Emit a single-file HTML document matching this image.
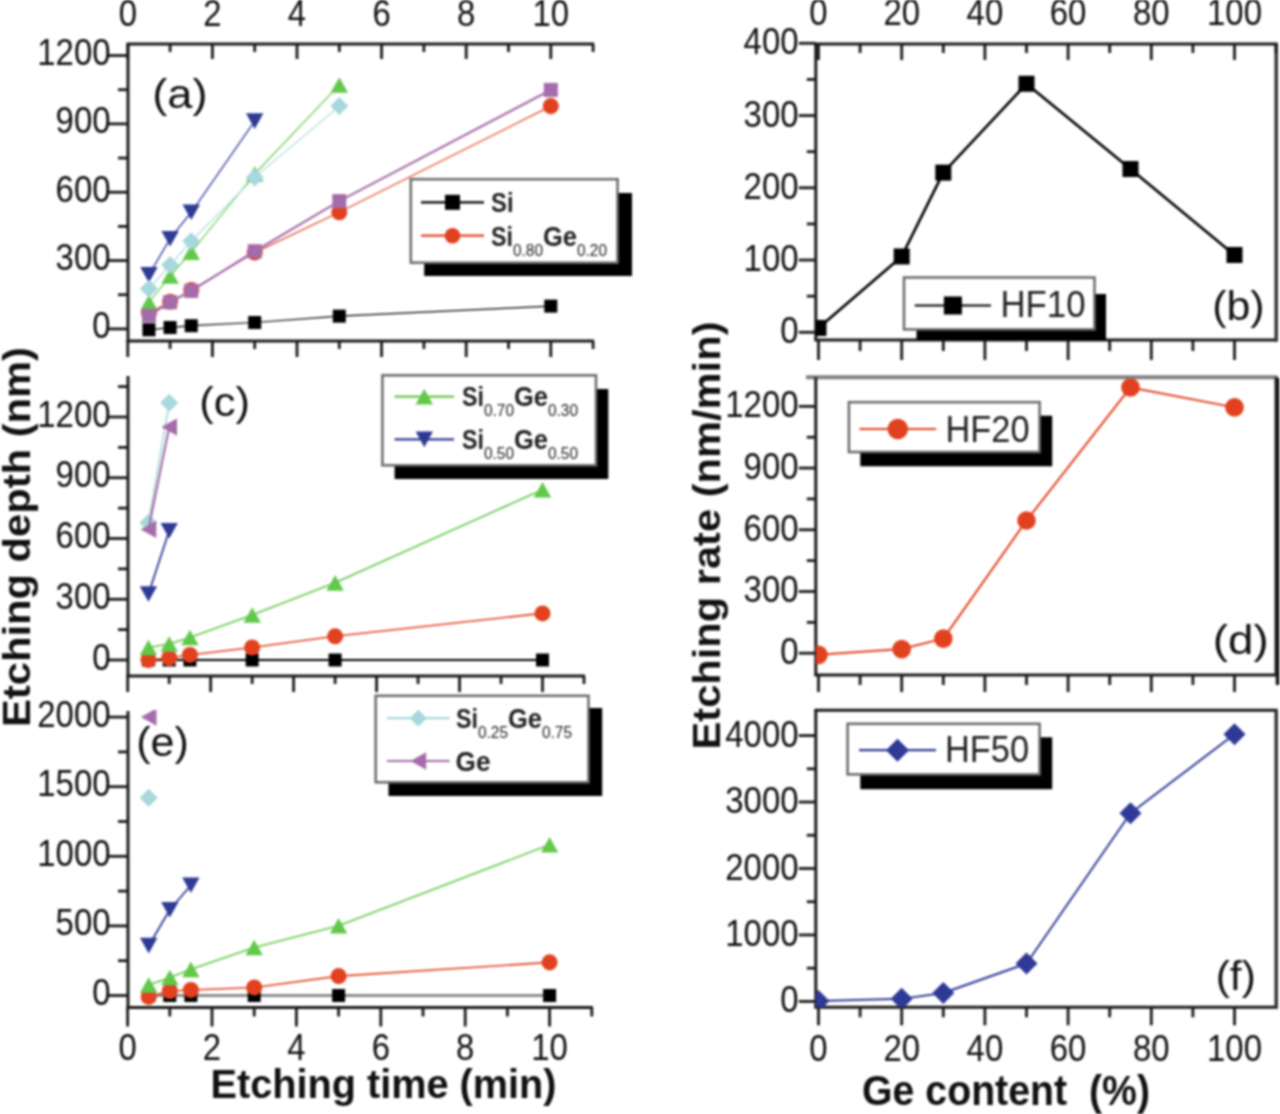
<!DOCTYPE html>
<html><head><meta charset="utf-8"><style>
html,body{margin:0;padding:0;background:#fff;width:1280px;height:1114px;overflow:hidden}
svg{display:block;filter:blur(1.2px)}
text{font-family:"Liberation Sans",sans-serif}
</style></head><body>
<svg width="1280" height="1114" viewBox="0 0 1280 1114">
<rect width="1280" height="1114" fill="#fff"/>
<defs>
<clipPath id="cA"><rect x="128" y="44" width="464.5" height="297"/></clipPath>
<clipPath id="cC"><rect x="128" y="376" width="456" height="300"/></clipPath>
<clipPath id="cE"><rect x="128" y="710" width="464" height="297.5"/></clipPath>
<clipPath id="cB"><rect x="815.8" y="44" width="460.4" height="296"/></clipPath>
<clipPath id="cD"><rect x="815.8" y="377" width="460.4" height="298"/></clipPath>
<clipPath id="cF"><rect x="815.8" y="710.2" width="460.4" height="297.1"/></clipPath>
</defs>
<line x1="128.00" y1="44.00" x2="128.00" y2="341.00" stroke="#1a1a1a" stroke-width="3" />
<line x1="126.50" y1="44.00" x2="594.10" y2="44.00" stroke="#1a1a1a" stroke-width="3" />
<line x1="126.50" y1="341.00" x2="594.10" y2="341.00" stroke="#1a1a1a" stroke-width="3" />
<line x1="127.80" y1="44.00" x2="127.80" y2="59.00" stroke="#1a1a1a" stroke-width="2.8" />
<text x="127.80" y="25.50" font-size="36" text-anchor="middle" font-weight="normal" fill="#111" textLength="18.3" lengthAdjust="spacingAndGlyphs"  xml:space="preserve">0</text>
<line x1="170.10" y1="44.00" x2="170.10" y2="52.00" stroke="#1a1a1a" stroke-width="2.8" />
<line x1="212.40" y1="44.00" x2="212.40" y2="59.00" stroke="#1a1a1a" stroke-width="2.8" />
<text x="212.40" y="25.50" font-size="36" text-anchor="middle" font-weight="normal" fill="#111" textLength="18.3" lengthAdjust="spacingAndGlyphs"  xml:space="preserve">2</text>
<line x1="254.70" y1="44.00" x2="254.70" y2="52.00" stroke="#1a1a1a" stroke-width="2.8" />
<line x1="297.00" y1="44.00" x2="297.00" y2="59.00" stroke="#1a1a1a" stroke-width="2.8" />
<text x="297.00" y="25.50" font-size="36" text-anchor="middle" font-weight="normal" fill="#111" textLength="18.3" lengthAdjust="spacingAndGlyphs"  xml:space="preserve">4</text>
<line x1="339.30" y1="44.00" x2="339.30" y2="52.00" stroke="#1a1a1a" stroke-width="2.8" />
<line x1="381.60" y1="44.00" x2="381.60" y2="59.00" stroke="#1a1a1a" stroke-width="2.8" />
<text x="381.60" y="25.50" font-size="36" text-anchor="middle" font-weight="normal" fill="#111" textLength="18.3" lengthAdjust="spacingAndGlyphs"  xml:space="preserve">6</text>
<line x1="423.90" y1="44.00" x2="423.90" y2="52.00" stroke="#1a1a1a" stroke-width="2.8" />
<line x1="466.20" y1="44.00" x2="466.20" y2="59.00" stroke="#1a1a1a" stroke-width="2.8" />
<text x="466.20" y="25.50" font-size="36" text-anchor="middle" font-weight="normal" fill="#111" textLength="18.3" lengthAdjust="spacingAndGlyphs"  xml:space="preserve">8</text>
<line x1="508.50" y1="44.00" x2="508.50" y2="52.00" stroke="#1a1a1a" stroke-width="2.8" />
<line x1="550.80" y1="44.00" x2="550.80" y2="59.00" stroke="#1a1a1a" stroke-width="2.8" />
<text x="550.80" y="25.50" font-size="36" text-anchor="middle" font-weight="normal" fill="#111" textLength="36.6" lengthAdjust="spacingAndGlyphs"  xml:space="preserve">10</text>
<line x1="593.10" y1="44.00" x2="593.10" y2="52.00" stroke="#1a1a1a" stroke-width="2.8" />
<line x1="127.80" y1="341.00" x2="127.80" y2="357.00" stroke="#1a1a1a" stroke-width="2.8" />
<line x1="170.10" y1="341.00" x2="170.10" y2="349.00" stroke="#1a1a1a" stroke-width="2.8" />
<line x1="212.40" y1="341.00" x2="212.40" y2="357.00" stroke="#1a1a1a" stroke-width="2.8" />
<line x1="254.70" y1="341.00" x2="254.70" y2="349.00" stroke="#1a1a1a" stroke-width="2.8" />
<line x1="297.00" y1="341.00" x2="297.00" y2="357.00" stroke="#1a1a1a" stroke-width="2.8" />
<line x1="339.30" y1="341.00" x2="339.30" y2="349.00" stroke="#1a1a1a" stroke-width="2.8" />
<line x1="381.60" y1="341.00" x2="381.60" y2="357.00" stroke="#1a1a1a" stroke-width="2.8" />
<line x1="423.90" y1="341.00" x2="423.90" y2="349.00" stroke="#1a1a1a" stroke-width="2.8" />
<line x1="466.20" y1="341.00" x2="466.20" y2="357.00" stroke="#1a1a1a" stroke-width="2.8" />
<line x1="508.50" y1="341.00" x2="508.50" y2="349.00" stroke="#1a1a1a" stroke-width="2.8" />
<line x1="550.80" y1="341.00" x2="550.80" y2="357.00" stroke="#1a1a1a" stroke-width="2.8" />
<line x1="593.10" y1="341.00" x2="593.10" y2="349.00" stroke="#1a1a1a" stroke-width="2.8" />
<line x1="109.00" y1="328.90" x2="128.00" y2="328.90" stroke="#1a1a1a" stroke-width="2.8" />
<text x="110.50" y="338.40" font-size="36" text-anchor="end" font-weight="normal" fill="#111" textLength="18.3" lengthAdjust="spacingAndGlyphs"  xml:space="preserve">0</text>
<line x1="109.00" y1="260.56" x2="128.00" y2="260.56" stroke="#1a1a1a" stroke-width="2.8" />
<text x="110.50" y="270.06" font-size="36" text-anchor="end" font-weight="normal" fill="#111" textLength="54.9" lengthAdjust="spacingAndGlyphs"  xml:space="preserve">300</text>
<line x1="109.00" y1="192.22" x2="128.00" y2="192.22" stroke="#1a1a1a" stroke-width="2.8" />
<text x="110.50" y="201.72" font-size="36" text-anchor="end" font-weight="normal" fill="#111" textLength="54.9" lengthAdjust="spacingAndGlyphs"  xml:space="preserve">600</text>
<line x1="109.00" y1="123.88" x2="128.00" y2="123.88" stroke="#1a1a1a" stroke-width="2.8" />
<text x="110.50" y="133.38" font-size="36" text-anchor="end" font-weight="normal" fill="#111" textLength="54.9" lengthAdjust="spacingAndGlyphs"  xml:space="preserve">900</text>
<line x1="109.00" y1="55.54" x2="128.00" y2="55.54" stroke="#1a1a1a" stroke-width="2.8" />
<text x="110.50" y="65.04" font-size="36" text-anchor="end" font-weight="normal" fill="#111" textLength="73.2" lengthAdjust="spacingAndGlyphs"  xml:space="preserve">1200</text>
<line x1="118.00" y1="294.73" x2="128.00" y2="294.73" stroke="#1a1a1a" stroke-width="2.8" />
<line x1="118.00" y1="226.39" x2="128.00" y2="226.39" stroke="#1a1a1a" stroke-width="2.8" />
<line x1="118.00" y1="158.05" x2="128.00" y2="158.05" stroke="#1a1a1a" stroke-width="2.8" />
<line x1="118.00" y1="89.71" x2="128.00" y2="89.71" stroke="#1a1a1a" stroke-width="2.8" />
<g clip-path="url(#cA)">
<polyline points="148.95,329.81 170.10,327.53 191.25,325.71 254.70,322.52 339.30,316.14 550.80,306.12" fill="none" stroke="#000" stroke-width="1.2" stroke-linejoin="round"/>
<rect x="142.45" y="323.31" width="13" height="13" fill="#000"/>
<rect x="163.60" y="321.03" width="13" height="13" fill="#000"/>
<rect x="184.75" y="319.21" width="13" height="13" fill="#000"/>
<rect x="248.20" y="316.02" width="13" height="13" fill="#000"/>
<rect x="332.80" y="309.64" width="13" height="13" fill="#000"/>
<rect x="544.30" y="299.62" width="13" height="13" fill="#000"/>
<polyline points="148.95,312.95 170.10,301.79 191.25,289.95 254.70,252.59 339.30,212.27 550.80,106.11" fill="none" stroke="#e2411f" stroke-width="1.2" stroke-linejoin="round"/>
<circle cx="148.95" cy="312.95" r="8.03" fill="#e2411f"/>
<circle cx="170.10" cy="301.79" r="8.03" fill="#e2411f"/>
<circle cx="191.25" cy="289.95" r="8.03" fill="#e2411f"/>
<circle cx="254.70" cy="252.59" r="8.03" fill="#e2411f"/>
<circle cx="339.30" cy="212.27" r="8.03" fill="#e2411f"/>
<circle cx="550.80" cy="106.11" r="8.03" fill="#e2411f"/>
<polyline points="148.95,302.48 170.10,276.05 191.25,252.13 254.70,174.00 339.30,84.93" fill="none" stroke="#62c84a" stroke-width="1.1" stroke-linejoin="round"/>
<polygon points="148.95,294.68 157.65,310.28 140.25,310.28" fill="#62c84a"/>
<polygon points="170.10,268.25 178.80,283.85 161.40,283.85" fill="#62c84a"/>
<polygon points="191.25,244.33 199.95,259.93 182.55,259.93" fill="#62c84a"/>
<polygon points="254.70,166.20 263.40,181.80 246.00,181.80" fill="#62c84a"/>
<polygon points="339.30,77.13 348.00,92.73 330.60,92.73" fill="#62c84a"/>
<polyline points="148.95,274.91 170.10,238.69 191.25,212.27 254.70,121.15" fill="none" stroke="#2e3a96" stroke-width="1.3" stroke-linejoin="round"/>
<polygon points="148.95,282.71 157.65,267.11 140.25,267.11" fill="#2e3a96"/>
<polygon points="170.10,246.49 178.80,230.89 161.40,230.89" fill="#2e3a96"/>
<polygon points="191.25,220.07 199.95,204.47 182.55,204.47" fill="#2e3a96"/>
<polygon points="254.70,128.95 263.40,113.35 246.00,113.35" fill="#2e3a96"/>
<polyline points="148.95,288.81 170.10,265.12 191.25,241.20 254.70,177.41 339.30,106.11" fill="none" stroke="#a6d8dc" stroke-width="1.1" stroke-linejoin="round"/>
<polygon points="148.95,279.81 157.95,288.81 148.95,297.81 139.95,288.81" fill="#a6d8dc"/>
<polygon points="170.10,256.12 179.10,265.12 170.10,274.12 161.10,265.12" fill="#a6d8dc"/>
<polygon points="191.25,232.20 200.25,241.20 191.25,250.20 182.25,241.20" fill="#a6d8dc"/>
<polygon points="254.70,168.41 263.70,177.41 254.70,186.41 245.70,177.41" fill="#a6d8dc"/>
<polygon points="339.30,97.11 348.30,106.11 339.30,115.11 330.30,106.11" fill="#a6d8dc"/>
<polyline points="148.95,315.69 170.10,302.25 191.25,290.86 254.70,251.22 339.30,201.10 550.80,89.94" fill="none" stroke="#a56cab" stroke-width="2.2" stroke-linejoin="round"/>
<rect x="141.95" y="308.69" width="14" height="14" fill="#a56cab"/>
<rect x="163.10" y="295.25" width="14" height="14" fill="#a56cab"/>
<rect x="184.25" y="283.86" width="14" height="14" fill="#a56cab"/>
<rect x="247.70" y="244.22" width="14" height="14" fill="#a56cab"/>
<rect x="332.30" y="194.10" width="14" height="14" fill="#a56cab"/>
<rect x="543.80" y="82.94" width="14" height="14" fill="#a56cab"/>
</g>
<text x="152.20" y="107.50" font-size="40" text-anchor="start" font-weight="normal" fill="#111" textLength="55.3" lengthAdjust="spacingAndGlyphs"  xml:space="preserve">(a)</text>
<rect x="424.20" y="193.00" width="207.80" height="83.00" fill="#000"/>
<rect x="410.80" y="179.20" width="206.70" height="83.50" fill="#fff" stroke="#6a6a6a" stroke-width="2.5"/>
<line x1="421.00" y1="202.30" x2="484.00" y2="202.30" stroke="#000" stroke-width="2.2" />
<rect x="445.00" y="194.80" width="15" height="15" fill="#000"/>
<text x="491.00" y="211.50" font-size="27" text-anchor="start" font-weight="bold" fill="#222" textLength="22.5" lengthAdjust="spacingAndGlyphs"  xml:space="preserve">Si</text>
<line x1="421.00" y1="235.70" x2="484.00" y2="235.70" stroke="#e2411f" stroke-width="2.2" />
<circle cx="452.50" cy="235.70" r="7.80" fill="#e2411f"/>
<text x="491.00" y="245.50" font-size="27" font-weight="bold" fill="#222" xml:space="preserve"><tspan textLength="22" lengthAdjust="spacingAndGlyphs">Si</tspan><tspan font-size="16" font-weight="normal" dy="10" textLength="30" lengthAdjust="spacingAndGlyphs">0.80</tspan><tspan dy="-10" textLength="34" lengthAdjust="spacingAndGlyphs">Ge</tspan><tspan font-size="16" font-weight="normal" dy="10" textLength="30" lengthAdjust="spacingAndGlyphs">0.20</tspan></text>
<line x1="128.00" y1="376.00" x2="128.00" y2="676.00" stroke="#1a1a1a" stroke-width="3" />
<line x1="126.50" y1="676.00" x2="584.98" y2="676.00" stroke="#1a1a1a" stroke-width="3" />
<line x1="127.70" y1="676.00" x2="127.70" y2="692.00" stroke="#1a1a1a" stroke-width="2.8" />
<line x1="169.18" y1="676.00" x2="169.18" y2="684.00" stroke="#1a1a1a" stroke-width="2.8" />
<line x1="210.66" y1="676.00" x2="210.66" y2="692.00" stroke="#1a1a1a" stroke-width="2.8" />
<line x1="252.14" y1="676.00" x2="252.14" y2="684.00" stroke="#1a1a1a" stroke-width="2.8" />
<line x1="293.62" y1="676.00" x2="293.62" y2="692.00" stroke="#1a1a1a" stroke-width="2.8" />
<line x1="335.10" y1="676.00" x2="335.10" y2="684.00" stroke="#1a1a1a" stroke-width="2.8" />
<line x1="376.58" y1="676.00" x2="376.58" y2="692.00" stroke="#1a1a1a" stroke-width="2.8" />
<line x1="418.06" y1="676.00" x2="418.06" y2="684.00" stroke="#1a1a1a" stroke-width="2.8" />
<line x1="459.54" y1="676.00" x2="459.54" y2="692.00" stroke="#1a1a1a" stroke-width="2.8" />
<line x1="501.02" y1="676.00" x2="501.02" y2="684.00" stroke="#1a1a1a" stroke-width="2.8" />
<line x1="542.50" y1="676.00" x2="542.50" y2="692.00" stroke="#1a1a1a" stroke-width="2.8" />
<line x1="583.98" y1="676.00" x2="583.98" y2="684.00" stroke="#1a1a1a" stroke-width="2.8" />
<line x1="109.00" y1="660.00" x2="128.00" y2="660.00" stroke="#1a1a1a" stroke-width="2.8" />
<text x="110.50" y="669.50" font-size="36" text-anchor="end" font-weight="normal" fill="#111" textLength="18.3" lengthAdjust="spacingAndGlyphs"  xml:space="preserve">0</text>
<line x1="109.00" y1="599.25" x2="128.00" y2="599.25" stroke="#1a1a1a" stroke-width="2.8" />
<text x="110.50" y="608.75" font-size="36" text-anchor="end" font-weight="normal" fill="#111" textLength="54.9" lengthAdjust="spacingAndGlyphs"  xml:space="preserve">300</text>
<line x1="109.00" y1="538.50" x2="128.00" y2="538.50" stroke="#1a1a1a" stroke-width="2.8" />
<text x="110.50" y="548.00" font-size="36" text-anchor="end" font-weight="normal" fill="#111" textLength="54.9" lengthAdjust="spacingAndGlyphs"  xml:space="preserve">600</text>
<line x1="109.00" y1="477.75" x2="128.00" y2="477.75" stroke="#1a1a1a" stroke-width="2.8" />
<text x="110.50" y="487.25" font-size="36" text-anchor="end" font-weight="normal" fill="#111" textLength="54.9" lengthAdjust="spacingAndGlyphs"  xml:space="preserve">900</text>
<line x1="109.00" y1="417.00" x2="128.00" y2="417.00" stroke="#1a1a1a" stroke-width="2.8" />
<text x="110.50" y="426.50" font-size="36" text-anchor="end" font-weight="normal" fill="#111" textLength="73.2" lengthAdjust="spacingAndGlyphs"  xml:space="preserve">1200</text>
<line x1="118.00" y1="629.62" x2="128.00" y2="629.62" stroke="#1a1a1a" stroke-width="2.8" />
<line x1="118.00" y1="568.88" x2="128.00" y2="568.88" stroke="#1a1a1a" stroke-width="2.8" />
<line x1="118.00" y1="508.12" x2="128.00" y2="508.12" stroke="#1a1a1a" stroke-width="2.8" />
<line x1="118.00" y1="447.38" x2="128.00" y2="447.38" stroke="#1a1a1a" stroke-width="2.8" />
<line x1="118.00" y1="386.62" x2="128.00" y2="386.62" stroke="#1a1a1a" stroke-width="2.8" />
<g clip-path="url(#cC)">
<polyline points="148.44,660.00 169.18,660.00 189.92,660.00 252.14,660.00 335.10,660.00 542.50,660.00" fill="none" stroke="#000" stroke-width="2.2" stroke-linejoin="round"/>
<rect x="141.94" y="653.50" width="13" height="13" fill="#000"/>
<rect x="162.68" y="653.50" width="13" height="13" fill="#000"/>
<rect x="183.42" y="653.50" width="13" height="13" fill="#000"/>
<rect x="245.64" y="653.50" width="13" height="13" fill="#000"/>
<rect x="328.60" y="653.50" width="13" height="13" fill="#000"/>
<rect x="536.00" y="653.50" width="13" height="13" fill="#000"/>
<polyline points="148.44,660.00 169.18,657.98 189.92,654.94 252.14,647.45 335.10,636.31 542.50,613.42" fill="none" stroke="#e2411f" stroke-width="1.6" stroke-linejoin="round"/>
<circle cx="148.44" cy="660.00" r="8.03" fill="#e2411f"/>
<circle cx="169.18" cy="657.98" r="8.03" fill="#e2411f"/>
<circle cx="189.92" cy="654.94" r="8.03" fill="#e2411f"/>
<circle cx="252.14" cy="647.45" r="8.03" fill="#e2411f"/>
<circle cx="335.10" cy="636.31" r="8.03" fill="#e2411f"/>
<circle cx="542.50" cy="613.42" r="8.03" fill="#e2411f"/>
<polyline points="148.44,647.45 169.18,644.00 189.92,637.52 252.14,615.04 335.10,582.85 542.50,489.70" fill="none" stroke="#62c84a" stroke-width="1.6" stroke-linejoin="round"/>
<polygon points="148.44,639.65 157.14,655.25 139.74,655.25" fill="#62c84a"/>
<polygon points="169.18,636.20 177.88,651.80 160.48,651.80" fill="#62c84a"/>
<polygon points="189.92,629.72 198.62,645.32 181.22,645.32" fill="#62c84a"/>
<polygon points="252.14,607.25 260.84,622.84 243.44,622.84" fill="#62c84a"/>
<polygon points="335.10,575.05 343.80,590.65 326.40,590.65" fill="#62c84a"/>
<polygon points="542.50,481.90 551.20,497.50 533.80,497.50" fill="#62c84a"/>
<polyline points="148.44,593.99 169.18,530.80" fill="none" stroke="#2e3a96" stroke-width="1.8" stroke-linejoin="round"/>
<polygon points="148.44,601.78 157.14,586.19 139.74,586.19" fill="#2e3a96"/>
<polygon points="169.18,538.60 177.88,523.00 160.48,523.00" fill="#2e3a96"/>
<polyline points="148.44,522.70 169.18,402.82" fill="none" stroke="#a6d8dc" stroke-width="1.6" stroke-linejoin="round"/>
<polygon points="148.44,513.70 157.44,522.70 148.44,531.70 139.44,522.70" fill="#a6d8dc"/>
<polygon points="169.18,393.82 178.18,402.82 169.18,411.82 160.18,402.82" fill="#a6d8dc"/>
<polyline points="148.44,529.39 169.18,427.12" fill="none" stroke="#a56cab" stroke-width="2.2" stroke-linejoin="round"/>
<polygon points="140.64,529.39 156.24,520.69 156.24,538.09" fill="#a56cab"/>
<polygon points="161.38,427.12 176.98,418.43 176.98,435.82" fill="#a56cab"/>
</g>
<text x="199.20" y="415.50" font-size="41" text-anchor="start" font-weight="normal" fill="#111" textLength="50.8" lengthAdjust="spacingAndGlyphs"  xml:space="preserve">(c)</text>
<rect x="394.60" y="389.00" width="213.70" height="90.00" fill="#000"/>
<rect x="382.40" y="375.30" width="213.60" height="90.00" fill="#fff" stroke="#6a6a6a" stroke-width="2.5"/>
<line x1="394.60" y1="396.60" x2="454.00" y2="396.60" stroke="#62c84a" stroke-width="2.2" />
<polygon points="424.30,388.80 433.00,404.40 415.60,404.40" fill="#62c84a"/>
<text x="462.00" y="406.00" font-size="27" font-weight="bold" fill="#222" xml:space="preserve"><tspan textLength="22" lengthAdjust="spacingAndGlyphs">Si</tspan><tspan font-size="16" font-weight="normal" dy="10" textLength="30" lengthAdjust="spacingAndGlyphs">0.70</tspan><tspan dy="-10" textLength="34" lengthAdjust="spacingAndGlyphs">Ge</tspan><tspan font-size="16" font-weight="normal" dy="10" textLength="30" lengthAdjust="spacingAndGlyphs">0.30</tspan></text>
<line x1="394.60" y1="439.40" x2="454.00" y2="439.40" stroke="#2e3a96" stroke-width="2.2" />
<polygon points="424.30,447.20 433.00,431.60 415.60,431.60" fill="#2e3a96"/>
<text x="462.00" y="449.00" font-size="27" font-weight="bold" fill="#222" xml:space="preserve"><tspan textLength="22" lengthAdjust="spacingAndGlyphs">Si</tspan><tspan font-size="16" font-weight="normal" dy="10" textLength="30" lengthAdjust="spacingAndGlyphs">0.50</tspan><tspan dy="-10" textLength="34" lengthAdjust="spacingAndGlyphs">Ge</tspan><tspan font-size="16" font-weight="normal" dy="10" textLength="30" lengthAdjust="spacingAndGlyphs">0.50</tspan></text>
<line x1="128.00" y1="711.00" x2="128.00" y2="1007.50" stroke="#1a1a1a" stroke-width="3" />
<line x1="126.50" y1="1007.50" x2="592.80" y2="1007.50" stroke="#1a1a1a" stroke-width="3" />
<line x1="127.60" y1="1007.50" x2="127.60" y2="1026.50" stroke="#1a1a1a" stroke-width="2.8" />
<line x1="169.80" y1="1007.50" x2="169.80" y2="1016.50" stroke="#1a1a1a" stroke-width="2.8" />
<line x1="212.00" y1="1007.50" x2="212.00" y2="1026.50" stroke="#1a1a1a" stroke-width="2.8" />
<line x1="254.20" y1="1007.50" x2="254.20" y2="1016.50" stroke="#1a1a1a" stroke-width="2.8" />
<line x1="296.40" y1="1007.50" x2="296.40" y2="1026.50" stroke="#1a1a1a" stroke-width="2.8" />
<line x1="338.60" y1="1007.50" x2="338.60" y2="1016.50" stroke="#1a1a1a" stroke-width="2.8" />
<line x1="380.80" y1="1007.50" x2="380.80" y2="1026.50" stroke="#1a1a1a" stroke-width="2.8" />
<line x1="423.00" y1="1007.50" x2="423.00" y2="1016.50" stroke="#1a1a1a" stroke-width="2.8" />
<line x1="465.20" y1="1007.50" x2="465.20" y2="1026.50" stroke="#1a1a1a" stroke-width="2.8" />
<line x1="507.40" y1="1007.50" x2="507.40" y2="1016.50" stroke="#1a1a1a" stroke-width="2.8" />
<line x1="549.60" y1="1007.50" x2="549.60" y2="1026.50" stroke="#1a1a1a" stroke-width="2.8" />
<line x1="591.80" y1="1007.50" x2="591.80" y2="1016.50" stroke="#1a1a1a" stroke-width="2.8" />
<text x="127.60" y="1060.00" font-size="36" text-anchor="middle" font-weight="normal" fill="#111" textLength="18.3" lengthAdjust="spacingAndGlyphs"  xml:space="preserve">0</text>
<text x="212.00" y="1060.00" font-size="36" text-anchor="middle" font-weight="normal" fill="#111" textLength="18.3" lengthAdjust="spacingAndGlyphs"  xml:space="preserve">2</text>
<text x="296.40" y="1060.00" font-size="36" text-anchor="middle" font-weight="normal" fill="#111" textLength="18.3" lengthAdjust="spacingAndGlyphs"  xml:space="preserve">4</text>
<text x="380.80" y="1060.00" font-size="36" text-anchor="middle" font-weight="normal" fill="#111" textLength="18.3" lengthAdjust="spacingAndGlyphs"  xml:space="preserve">6</text>
<text x="465.20" y="1060.00" font-size="36" text-anchor="middle" font-weight="normal" fill="#111" textLength="18.3" lengthAdjust="spacingAndGlyphs"  xml:space="preserve">8</text>
<text x="549.60" y="1060.00" font-size="36" text-anchor="middle" font-weight="normal" fill="#111" textLength="36.6" lengthAdjust="spacingAndGlyphs"  xml:space="preserve">10</text>
<line x1="109.00" y1="995.50" x2="128.00" y2="995.50" stroke="#1a1a1a" stroke-width="2.8" />
<text x="110.50" y="1005.00" font-size="36" text-anchor="end" font-weight="normal" fill="#111" textLength="18.3" lengthAdjust="spacingAndGlyphs"  xml:space="preserve">0</text>
<line x1="109.00" y1="925.90" x2="128.00" y2="925.90" stroke="#1a1a1a" stroke-width="2.8" />
<text x="110.50" y="935.40" font-size="36" text-anchor="end" font-weight="normal" fill="#111" textLength="54.9" lengthAdjust="spacingAndGlyphs"  xml:space="preserve">500</text>
<line x1="109.00" y1="856.30" x2="128.00" y2="856.30" stroke="#1a1a1a" stroke-width="2.8" />
<text x="110.50" y="865.80" font-size="36" text-anchor="end" font-weight="normal" fill="#111" textLength="73.2" lengthAdjust="spacingAndGlyphs"  xml:space="preserve">1000</text>
<line x1="109.00" y1="786.70" x2="128.00" y2="786.70" stroke="#1a1a1a" stroke-width="2.8" />
<text x="110.50" y="796.20" font-size="36" text-anchor="end" font-weight="normal" fill="#111" textLength="73.2" lengthAdjust="spacingAndGlyphs"  xml:space="preserve">1500</text>
<line x1="109.00" y1="717.10" x2="128.00" y2="717.10" stroke="#1a1a1a" stroke-width="2.8" />
<text x="110.50" y="726.60" font-size="36" text-anchor="end" font-weight="normal" fill="#111" textLength="73.2" lengthAdjust="spacingAndGlyphs"  xml:space="preserve">2000</text>
<line x1="118.00" y1="960.70" x2="128.00" y2="960.70" stroke="#1a1a1a" stroke-width="2.8" />
<line x1="118.00" y1="891.10" x2="128.00" y2="891.10" stroke="#1a1a1a" stroke-width="2.8" />
<line x1="118.00" y1="821.50" x2="128.00" y2="821.50" stroke="#1a1a1a" stroke-width="2.8" />
<line x1="118.00" y1="751.90" x2="128.00" y2="751.90" stroke="#1a1a1a" stroke-width="2.8" />
<g clip-path="url(#cE)">
<polyline points="148.70,995.50 169.80,995.50 190.90,995.50 254.20,995.50 338.60,995.50 549.60,995.50" fill="none" stroke="#8c8c8c" stroke-width="3" stroke-linejoin="round"/>
<rect x="142.20" y="989.00" width="13" height="13" fill="#000"/>
<rect x="163.30" y="989.00" width="13" height="13" fill="#000"/>
<rect x="184.40" y="989.00" width="13" height="13" fill="#000"/>
<rect x="247.70" y="989.00" width="13" height="13" fill="#000"/>
<rect x="332.10" y="989.00" width="13" height="13" fill="#000"/>
<rect x="543.10" y="989.00" width="13" height="13" fill="#000"/>
<polyline points="148.70,996.89 169.80,991.05 190.90,989.93 254.20,987.43 338.60,976.15 549.60,962.37" fill="none" stroke="#e2411f" stroke-width="1.6" stroke-linejoin="round"/>
<circle cx="148.70" cy="996.89" r="8.03" fill="#e2411f"/>
<circle cx="169.80" cy="991.05" r="8.03" fill="#e2411f"/>
<circle cx="190.90" cy="989.93" r="8.03" fill="#e2411f"/>
<circle cx="254.20" cy="987.43" r="8.03" fill="#e2411f"/>
<circle cx="338.60" cy="976.15" r="8.03" fill="#e2411f"/>
<circle cx="549.60" cy="962.37" r="8.03" fill="#e2411f"/>
<polyline points="148.70,985.06 169.80,977.54 190.90,969.33 254.20,947.48 338.60,925.76 549.60,844.75" fill="none" stroke="#62c84a" stroke-width="1.6" stroke-linejoin="round"/>
<polygon points="148.70,977.26 157.40,992.86 140.00,992.86" fill="#62c84a"/>
<polygon points="169.80,969.74 178.50,985.34 161.10,985.34" fill="#62c84a"/>
<polygon points="190.90,961.53 199.60,977.13 182.20,977.13" fill="#62c84a"/>
<polygon points="254.20,939.68 262.90,955.28 245.50,955.28" fill="#62c84a"/>
<polygon points="338.60,917.96 347.30,933.56 329.90,933.56" fill="#62c84a"/>
<polygon points="549.60,836.95 558.30,852.55 540.90,852.55" fill="#62c84a"/>
<polyline points="148.70,945.67 169.80,909.75 190.90,885.25" fill="none" stroke="#2e3a96" stroke-width="1.8" stroke-linejoin="round"/>
<polygon points="148.70,953.47 157.40,937.87 140.00,937.87" fill="#2e3a96"/>
<polygon points="169.80,917.55 178.50,901.95 161.10,901.95" fill="#2e3a96"/>
<polygon points="190.90,893.05 199.60,877.45 182.20,877.45" fill="#2e3a96"/>
<polygon points="148.70,788.70 157.70,797.70 148.70,806.70 139.70,797.70" fill="#a6d8dc"/>
<polygon points="140.90,717.10 156.50,708.40 156.50,725.80" fill="#a56cab"/>
</g>
<text x="136.20" y="755.50" font-size="40" text-anchor="start" font-weight="normal" fill="#111" textLength="52.6" lengthAdjust="spacingAndGlyphs"  xml:space="preserve">(e)</text>
<rect x="388.50" y="708.00" width="213.70" height="88.00" fill="#000"/>
<rect x="375.70" y="695.80" width="212.80" height="86.50" fill="#fff" stroke="#6a6a6a" stroke-width="2.5"/>
<line x1="387.00" y1="718.20" x2="449.60" y2="718.20" stroke="#a6d8dc" stroke-width="2.2" />
<polygon points="418.30,709.70 426.80,718.20 418.30,726.70 409.80,718.20" fill="#a6d8dc"/>
<text x="456.00" y="728.00" font-size="27" font-weight="bold" fill="#222" xml:space="preserve"><tspan textLength="22" lengthAdjust="spacingAndGlyphs">Si</tspan><tspan font-size="16" font-weight="normal" dy="10" textLength="30" lengthAdjust="spacingAndGlyphs">0.25</tspan><tspan dy="-10" textLength="34" lengthAdjust="spacingAndGlyphs">Ge</tspan><tspan font-size="16" font-weight="normal" dy="10" textLength="30" lengthAdjust="spacingAndGlyphs">0.75</tspan></text>
<line x1="387.00" y1="761.00" x2="449.60" y2="761.00" stroke="#a56cab" stroke-width="2.2" />
<polygon points="410.50,761.00 426.10,752.30 426.10,769.70" fill="#a56cab"/>
<text x="455.50" y="770.50" font-size="28" text-anchor="start" font-weight="bold" fill="#222" textLength="35.0" lengthAdjust="spacingAndGlyphs"  xml:space="preserve">Ge</text>
<text x="210.50" y="1097.50" font-size="41" text-anchor="start" font-weight="bold" fill="#111" textLength="346.0" lengthAdjust="spacingAndGlyphs"  xml:space="preserve">Etching time (min)</text>
<text x="30.00" y="727.00" font-size="39.5" text-anchor="start" font-weight="bold" fill="#111" textLength="380.0" lengthAdjust="spacingAndGlyphs" transform="rotate(-90 30.00 727.00)"  xml:space="preserve">Etching depth (nm)</text>
<line x1="814.30" y1="44.00" x2="1277.70" y2="44.00" stroke="#1a1a1a" stroke-width="3" />
<line x1="814.30" y1="340.00" x2="1277.70" y2="340.00" stroke="#1a1a1a" stroke-width="3" />
<line x1="815.80" y1="44.00" x2="815.80" y2="340.00" stroke="#1a1a1a" stroke-width="3" />
<line x1="1276.20" y1="44.00" x2="1276.20" y2="341.50" stroke="#333" stroke-width="3.5" />
<line x1="818.50" y1="44.00" x2="818.50" y2="60.00" stroke="#1a1a1a" stroke-width="2.8" />
<text x="818.50" y="25.00" font-size="36" text-anchor="middle" font-weight="normal" fill="#111" textLength="18.3" lengthAdjust="spacingAndGlyphs"  xml:space="preserve">0</text>
<line x1="860.10" y1="44.00" x2="860.10" y2="53.00" stroke="#1a1a1a" stroke-width="2.8" />
<line x1="901.70" y1="44.00" x2="901.70" y2="60.00" stroke="#1a1a1a" stroke-width="2.8" />
<text x="901.70" y="25.00" font-size="36" text-anchor="middle" font-weight="normal" fill="#111" textLength="36.6" lengthAdjust="spacingAndGlyphs"  xml:space="preserve">20</text>
<line x1="943.30" y1="44.00" x2="943.30" y2="53.00" stroke="#1a1a1a" stroke-width="2.8" />
<line x1="984.90" y1="44.00" x2="984.90" y2="60.00" stroke="#1a1a1a" stroke-width="2.8" />
<text x="984.90" y="25.00" font-size="36" text-anchor="middle" font-weight="normal" fill="#111" textLength="36.6" lengthAdjust="spacingAndGlyphs"  xml:space="preserve">40</text>
<line x1="1026.50" y1="44.00" x2="1026.50" y2="53.00" stroke="#1a1a1a" stroke-width="2.8" />
<line x1="1068.10" y1="44.00" x2="1068.10" y2="60.00" stroke="#1a1a1a" stroke-width="2.8" />
<text x="1068.10" y="25.00" font-size="36" text-anchor="middle" font-weight="normal" fill="#111" textLength="36.6" lengthAdjust="spacingAndGlyphs"  xml:space="preserve">60</text>
<line x1="1109.70" y1="44.00" x2="1109.70" y2="53.00" stroke="#1a1a1a" stroke-width="2.8" />
<line x1="1151.30" y1="44.00" x2="1151.30" y2="60.00" stroke="#1a1a1a" stroke-width="2.8" />
<text x="1151.30" y="25.00" font-size="36" text-anchor="middle" font-weight="normal" fill="#111" textLength="36.6" lengthAdjust="spacingAndGlyphs"  xml:space="preserve">80</text>
<line x1="1192.90" y1="44.00" x2="1192.90" y2="53.00" stroke="#1a1a1a" stroke-width="2.8" />
<line x1="1234.50" y1="44.00" x2="1234.50" y2="60.00" stroke="#1a1a1a" stroke-width="2.8" />
<text x="1234.50" y="25.00" font-size="36" text-anchor="middle" font-weight="normal" fill="#111" textLength="54.9" lengthAdjust="spacingAndGlyphs"  xml:space="preserve">100</text>
<line x1="1276.10" y1="44.00" x2="1276.10" y2="53.00" stroke="#1a1a1a" stroke-width="2.8" />
<line x1="818.50" y1="340.00" x2="818.50" y2="360.00" stroke="#1a1a1a" stroke-width="2.8" />
<line x1="860.10" y1="340.00" x2="860.10" y2="351.00" stroke="#1a1a1a" stroke-width="2.8" />
<line x1="901.70" y1="340.00" x2="901.70" y2="360.00" stroke="#1a1a1a" stroke-width="2.8" />
<line x1="943.30" y1="340.00" x2="943.30" y2="351.00" stroke="#1a1a1a" stroke-width="2.8" />
<line x1="984.90" y1="340.00" x2="984.90" y2="360.00" stroke="#1a1a1a" stroke-width="2.8" />
<line x1="1026.50" y1="340.00" x2="1026.50" y2="351.00" stroke="#1a1a1a" stroke-width="2.8" />
<line x1="1068.10" y1="340.00" x2="1068.10" y2="360.00" stroke="#1a1a1a" stroke-width="2.8" />
<line x1="1109.70" y1="340.00" x2="1109.70" y2="351.00" stroke="#1a1a1a" stroke-width="2.8" />
<line x1="1151.30" y1="340.00" x2="1151.30" y2="360.00" stroke="#1a1a1a" stroke-width="2.8" />
<line x1="1192.90" y1="340.00" x2="1192.90" y2="351.00" stroke="#1a1a1a" stroke-width="2.8" />
<line x1="1234.50" y1="340.00" x2="1234.50" y2="360.00" stroke="#1a1a1a" stroke-width="2.8" />
<line x1="798.80" y1="332.30" x2="815.80" y2="332.30" stroke="#1a1a1a" stroke-width="2.8" />
<text x="798.50" y="343.30" font-size="36" text-anchor="end" font-weight="normal" fill="#111" textLength="18.3" lengthAdjust="spacingAndGlyphs"  xml:space="preserve">0</text>
<line x1="798.80" y1="260.05" x2="815.80" y2="260.05" stroke="#1a1a1a" stroke-width="2.8" />
<text x="798.50" y="271.05" font-size="36" text-anchor="end" font-weight="normal" fill="#111" textLength="54.9" lengthAdjust="spacingAndGlyphs"  xml:space="preserve">100</text>
<line x1="798.80" y1="187.80" x2="815.80" y2="187.80" stroke="#1a1a1a" stroke-width="2.8" />
<text x="798.50" y="198.80" font-size="36" text-anchor="end" font-weight="normal" fill="#111" textLength="54.9" lengthAdjust="spacingAndGlyphs"  xml:space="preserve">200</text>
<line x1="798.80" y1="115.55" x2="815.80" y2="115.55" stroke="#1a1a1a" stroke-width="2.8" />
<text x="798.50" y="126.55" font-size="36" text-anchor="end" font-weight="normal" fill="#111" textLength="54.9" lengthAdjust="spacingAndGlyphs"  xml:space="preserve">300</text>
<line x1="798.80" y1="43.30" x2="815.80" y2="43.30" stroke="#1a1a1a" stroke-width="2.8" />
<text x="798.50" y="54.30" font-size="36" text-anchor="end" font-weight="normal" fill="#111" textLength="54.9" lengthAdjust="spacingAndGlyphs"  xml:space="preserve">400</text>
<line x1="806.80" y1="296.18" x2="815.80" y2="296.18" stroke="#1a1a1a" stroke-width="2.8" />
<line x1="806.80" y1="223.93" x2="815.80" y2="223.93" stroke="#1a1a1a" stroke-width="2.8" />
<line x1="806.80" y1="151.68" x2="815.80" y2="151.68" stroke="#1a1a1a" stroke-width="2.8" />
<line x1="806.80" y1="79.43" x2="815.80" y2="79.43" stroke="#1a1a1a" stroke-width="2.8" />
<rect x="916.50" y="294.00" width="189.50" height="46.00" fill="#000"/>
<rect x="904.00" y="277.50" width="190.50" height="51.90" fill="#fff" stroke="#6a6a6a" stroke-width="2.5"/>
<line x1="914.80" y1="305.50" x2="991.00" y2="305.50" stroke="#000" stroke-width="2.2" />
<rect x="943.90" y="296.50" width="18" height="18" fill="#000"/>
<text x="1000.50" y="317.00" font-size="36" text-anchor="start" font-weight="normal" fill="#222" textLength="85.0" lengthAdjust="spacingAndGlyphs"  xml:space="preserve">HF10</text>
<g clip-path="url(#cB)">
<polyline points="818.50,327.97 901.70,256.44 943.30,172.63 1026.50,83.76 1130.50,169.02 1234.50,254.99" fill="none" stroke="#000" stroke-width="2.6" stroke-linejoin="round"/>
<rect x="810.50" y="319.97" width="16" height="16" fill="#000"/>
<rect x="893.70" y="248.44" width="16" height="16" fill="#000"/>
<rect x="935.30" y="164.63" width="16" height="16" fill="#000"/>
<rect x="1018.50" y="75.76" width="16" height="16" fill="#000"/>
<rect x="1122.50" y="161.02" width="16" height="16" fill="#000"/>
<rect x="1226.50" y="246.99" width="16" height="16" fill="#000"/>
</g>
<text x="1212.20" y="319.50" font-size="40" text-anchor="start" font-weight="normal" fill="#111" textLength="52.4" lengthAdjust="spacingAndGlyphs"  xml:space="preserve">(b)</text>
<line x1="806.00" y1="377.20" x2="1277.70" y2="377.20" stroke="#808080" stroke-width="4" />
<line x1="814.30" y1="675.00" x2="1277.70" y2="675.00" stroke="#1a1a1a" stroke-width="3" />
<line x1="815.80" y1="377.20" x2="815.80" y2="675.00" stroke="#1a1a1a" stroke-width="3" />
<line x1="1276.20" y1="377.20" x2="1276.20" y2="676.50" stroke="#333" stroke-width="3.5" />
<line x1="1277.50" y1="378.00" x2="1277.50" y2="685.00" stroke="#111" stroke-width="3.5" />
<line x1="818.50" y1="675.00" x2="818.50" y2="692.00" stroke="#1a1a1a" stroke-width="2.8" />
<line x1="860.10" y1="675.00" x2="860.10" y2="685.00" stroke="#1a1a1a" stroke-width="2.8" />
<line x1="901.70" y1="675.00" x2="901.70" y2="692.00" stroke="#1a1a1a" stroke-width="2.8" />
<line x1="943.30" y1="675.00" x2="943.30" y2="685.00" stroke="#1a1a1a" stroke-width="2.8" />
<line x1="984.90" y1="675.00" x2="984.90" y2="692.00" stroke="#1a1a1a" stroke-width="2.8" />
<line x1="1026.50" y1="675.00" x2="1026.50" y2="685.00" stroke="#1a1a1a" stroke-width="2.8" />
<line x1="1068.10" y1="675.00" x2="1068.10" y2="692.00" stroke="#1a1a1a" stroke-width="2.8" />
<line x1="1109.70" y1="675.00" x2="1109.70" y2="685.00" stroke="#1a1a1a" stroke-width="2.8" />
<line x1="1151.30" y1="675.00" x2="1151.30" y2="692.00" stroke="#1a1a1a" stroke-width="2.8" />
<line x1="1192.90" y1="675.00" x2="1192.90" y2="685.00" stroke="#1a1a1a" stroke-width="2.8" />
<line x1="1234.50" y1="675.00" x2="1234.50" y2="692.00" stroke="#1a1a1a" stroke-width="2.8" />
<line x1="798.80" y1="653.20" x2="815.80" y2="653.20" stroke="#1a1a1a" stroke-width="2.8" />
<text x="798.50" y="664.20" font-size="36" text-anchor="end" font-weight="normal" fill="#111" textLength="18.3" lengthAdjust="spacingAndGlyphs"  xml:space="preserve">0</text>
<line x1="798.80" y1="591.49" x2="815.80" y2="591.49" stroke="#1a1a1a" stroke-width="2.8" />
<text x="798.50" y="602.49" font-size="36" text-anchor="end" font-weight="normal" fill="#111" textLength="54.9" lengthAdjust="spacingAndGlyphs"  xml:space="preserve">300</text>
<line x1="798.80" y1="529.78" x2="815.80" y2="529.78" stroke="#1a1a1a" stroke-width="2.8" />
<text x="798.50" y="540.78" font-size="36" text-anchor="end" font-weight="normal" fill="#111" textLength="54.9" lengthAdjust="spacingAndGlyphs"  xml:space="preserve">600</text>
<line x1="798.80" y1="468.07" x2="815.80" y2="468.07" stroke="#1a1a1a" stroke-width="2.8" />
<text x="798.50" y="479.07" font-size="36" text-anchor="end" font-weight="normal" fill="#111" textLength="54.9" lengthAdjust="spacingAndGlyphs"  xml:space="preserve">900</text>
<line x1="798.80" y1="406.36" x2="815.80" y2="406.36" stroke="#1a1a1a" stroke-width="2.8" />
<text x="798.50" y="417.36" font-size="36" text-anchor="end" font-weight="normal" fill="#111" textLength="73.2" lengthAdjust="spacingAndGlyphs"  xml:space="preserve">1200</text>
<line x1="806.80" y1="622.35" x2="815.80" y2="622.35" stroke="#1a1a1a" stroke-width="2.8" />
<line x1="806.80" y1="560.63" x2="815.80" y2="560.63" stroke="#1a1a1a" stroke-width="2.8" />
<line x1="806.80" y1="498.93" x2="815.80" y2="498.93" stroke="#1a1a1a" stroke-width="2.8" />
<line x1="806.80" y1="437.22" x2="815.80" y2="437.22" stroke="#1a1a1a" stroke-width="2.8" />
<g clip-path="url(#cD)">
<polyline points="818.50,654.85 901.70,649.09 943.30,638.60 1026.50,520.52 1130.50,387.44 1234.50,407.39" fill="none" stroke="#e2411f" stroke-width="2.0" stroke-linejoin="round"/>
<circle cx="818.50" cy="654.85" r="9.30" fill="#e2411f"/>
<circle cx="901.70" cy="649.09" r="9.30" fill="#e2411f"/>
<circle cx="943.30" cy="638.60" r="9.30" fill="#e2411f"/>
<circle cx="1026.50" cy="520.52" r="9.30" fill="#e2411f"/>
<circle cx="1130.50" cy="387.44" r="9.30" fill="#e2411f"/>
<circle cx="1234.50" cy="407.39" r="9.30" fill="#e2411f"/>
</g>
<rect x="860.30" y="415.70" width="191.90" height="50.60" fill="#000"/>
<rect x="848.90" y="402.20" width="190.70" height="49.80" fill="#fff" stroke="#6a6a6a" stroke-width="2.5"/>
<line x1="859.40" y1="429.00" x2="936.20" y2="429.00" stroke="#e2411f" stroke-width="2.2" />
<circle cx="897.80" cy="429.00" r="10.30" fill="#e2411f"/>
<text x="945.50" y="441.50" font-size="36" text-anchor="start" font-weight="normal" fill="#222" textLength="84.0" lengthAdjust="spacingAndGlyphs"  xml:space="preserve">HF20</text>
<text x="1212.80" y="653.80" font-size="40.5" text-anchor="start" font-weight="normal" fill="#111" textLength="55.9" lengthAdjust="spacingAndGlyphs"  xml:space="preserve">(d)</text>
<line x1="814.30" y1="710.20" x2="1277.70" y2="710.20" stroke="#1a1a1a" stroke-width="3" />
<line x1="814.30" y1="1007.30" x2="1277.70" y2="1007.30" stroke="#1a1a1a" stroke-width="3" />
<line x1="815.80" y1="710.20" x2="815.80" y2="1007.30" stroke="#1a1a1a" stroke-width="3" />
<line x1="1276.20" y1="710.20" x2="1276.20" y2="1008.80" stroke="#333" stroke-width="3.5" />
<line x1="818.50" y1="1007.30" x2="818.50" y2="1025.30" stroke="#1a1a1a" stroke-width="2.8" />
<line x1="860.10" y1="1007.30" x2="860.10" y2="1017.30" stroke="#1a1a1a" stroke-width="2.8" />
<line x1="901.70" y1="1007.30" x2="901.70" y2="1025.30" stroke="#1a1a1a" stroke-width="2.8" />
<line x1="943.30" y1="1007.30" x2="943.30" y2="1017.30" stroke="#1a1a1a" stroke-width="2.8" />
<line x1="984.90" y1="1007.30" x2="984.90" y2="1025.30" stroke="#1a1a1a" stroke-width="2.8" />
<line x1="1026.50" y1="1007.30" x2="1026.50" y2="1017.30" stroke="#1a1a1a" stroke-width="2.8" />
<line x1="1068.10" y1="1007.30" x2="1068.10" y2="1025.30" stroke="#1a1a1a" stroke-width="2.8" />
<line x1="1109.70" y1="1007.30" x2="1109.70" y2="1017.30" stroke="#1a1a1a" stroke-width="2.8" />
<line x1="1151.30" y1="1007.30" x2="1151.30" y2="1025.30" stroke="#1a1a1a" stroke-width="2.8" />
<line x1="1192.90" y1="1007.30" x2="1192.90" y2="1017.30" stroke="#1a1a1a" stroke-width="2.8" />
<line x1="1234.50" y1="1007.30" x2="1234.50" y2="1025.30" stroke="#1a1a1a" stroke-width="2.8" />
<text x="818.50" y="1060.50" font-size="36" text-anchor="middle" font-weight="normal" fill="#111" textLength="18.3" lengthAdjust="spacingAndGlyphs"  xml:space="preserve">0</text>
<text x="901.70" y="1060.50" font-size="36" text-anchor="middle" font-weight="normal" fill="#111" textLength="36.6" lengthAdjust="spacingAndGlyphs"  xml:space="preserve">20</text>
<text x="984.90" y="1060.50" font-size="36" text-anchor="middle" font-weight="normal" fill="#111" textLength="36.6" lengthAdjust="spacingAndGlyphs"  xml:space="preserve">40</text>
<text x="1068.10" y="1060.50" font-size="36" text-anchor="middle" font-weight="normal" fill="#111" textLength="36.6" lengthAdjust="spacingAndGlyphs"  xml:space="preserve">60</text>
<text x="1151.30" y="1060.50" font-size="36" text-anchor="middle" font-weight="normal" fill="#111" textLength="36.6" lengthAdjust="spacingAndGlyphs"  xml:space="preserve">80</text>
<text x="1234.50" y="1060.50" font-size="36" text-anchor="middle" font-weight="normal" fill="#111" textLength="54.9" lengthAdjust="spacingAndGlyphs"  xml:space="preserve">100</text>
<line x1="798.80" y1="1001.40" x2="815.80" y2="1001.40" stroke="#1a1a1a" stroke-width="2.8" />
<text x="798.50" y="1012.40" font-size="36" text-anchor="end" font-weight="normal" fill="#111" textLength="18.3" lengthAdjust="spacingAndGlyphs"  xml:space="preserve">0</text>
<line x1="798.80" y1="934.95" x2="815.80" y2="934.95" stroke="#1a1a1a" stroke-width="2.8" />
<text x="798.50" y="945.95" font-size="36" text-anchor="end" font-weight="normal" fill="#111" textLength="73.2" lengthAdjust="spacingAndGlyphs"  xml:space="preserve">1000</text>
<line x1="798.80" y1="868.50" x2="815.80" y2="868.50" stroke="#1a1a1a" stroke-width="2.8" />
<text x="798.50" y="879.50" font-size="36" text-anchor="end" font-weight="normal" fill="#111" textLength="73.2" lengthAdjust="spacingAndGlyphs"  xml:space="preserve">2000</text>
<line x1="798.80" y1="802.05" x2="815.80" y2="802.05" stroke="#1a1a1a" stroke-width="2.8" />
<text x="798.50" y="813.05" font-size="36" text-anchor="end" font-weight="normal" fill="#111" textLength="73.2" lengthAdjust="spacingAndGlyphs"  xml:space="preserve">3000</text>
<line x1="798.80" y1="735.60" x2="815.80" y2="735.60" stroke="#1a1a1a" stroke-width="2.8" />
<text x="798.50" y="746.60" font-size="36" text-anchor="end" font-weight="normal" fill="#111" textLength="73.2" lengthAdjust="spacingAndGlyphs"  xml:space="preserve">4000</text>
<line x1="806.80" y1="968.17" x2="815.80" y2="968.17" stroke="#1a1a1a" stroke-width="2.8" />
<line x1="806.80" y1="901.73" x2="815.80" y2="901.73" stroke="#1a1a1a" stroke-width="2.8" />
<line x1="806.80" y1="835.27" x2="815.80" y2="835.27" stroke="#1a1a1a" stroke-width="2.8" />
<line x1="806.80" y1="768.83" x2="815.80" y2="768.83" stroke="#1a1a1a" stroke-width="2.8" />
<g clip-path="url(#cF)">
<polyline points="818.50,1001.07 901.70,998.87 943.30,993.03 1026.50,963.52 1130.50,813.21 1234.50,734.27" fill="none" stroke="#2e3a96" stroke-width="2.0" stroke-linejoin="round"/>
<polygon points="818.50,990.07 829.50,1001.07 818.50,1012.07 807.50,1001.07" fill="#2e3a96"/>
<polygon points="901.70,987.87 912.70,998.87 901.70,1009.87 890.70,998.87" fill="#2e3a96"/>
<polygon points="943.30,982.03 954.30,993.03 943.30,1004.03 932.30,993.03" fill="#2e3a96"/>
<polygon points="1026.50,952.52 1037.50,963.52 1026.50,974.52 1015.50,963.52" fill="#2e3a96"/>
<polygon points="1130.50,802.21 1141.50,813.21 1130.50,824.21 1119.50,813.21" fill="#2e3a96"/>
<polygon points="1234.50,723.27 1245.50,734.27 1234.50,745.27 1223.50,734.27" fill="#2e3a96"/>
</g>
<rect x="860.30" y="737.30" width="191.90" height="51.90" fill="#000"/>
<rect x="847.60" y="723.80" width="192.00" height="50.60" fill="#fff" stroke="#6a6a6a" stroke-width="2.5"/>
<line x1="859.00" y1="750.20" x2="936.00" y2="750.20" stroke="#2e3a96" stroke-width="2.2" />
<polygon points="897.50,738.70 909.00,750.20 897.50,761.70 886.00,750.20" fill="#2e3a96"/>
<text x="945.00" y="762.00" font-size="36" text-anchor="start" font-weight="normal" fill="#222" textLength="84.0" lengthAdjust="spacingAndGlyphs"  xml:space="preserve">HF50</text>
<text x="1215.70" y="989.50" font-size="40.5" text-anchor="start" font-weight="normal" fill="#111" textLength="40.1" lengthAdjust="spacingAndGlyphs"  xml:space="preserve">(f)</text>
<text x="862.00" y="1104.50" font-size="42" text-anchor="start" font-weight="bold" fill="#111" textLength="288.0" lengthAdjust="spacingAndGlyphs"  xml:space="preserve">Ge content  (%)</text>
<text x="720.00" y="749.50" font-size="39.5" text-anchor="start" font-weight="bold" fill="#111" textLength="428.0" lengthAdjust="spacingAndGlyphs" transform="rotate(-90 720.00 749.50)"  xml:space="preserve">Etching rate (nm/min)</text>
</svg></body></html>
